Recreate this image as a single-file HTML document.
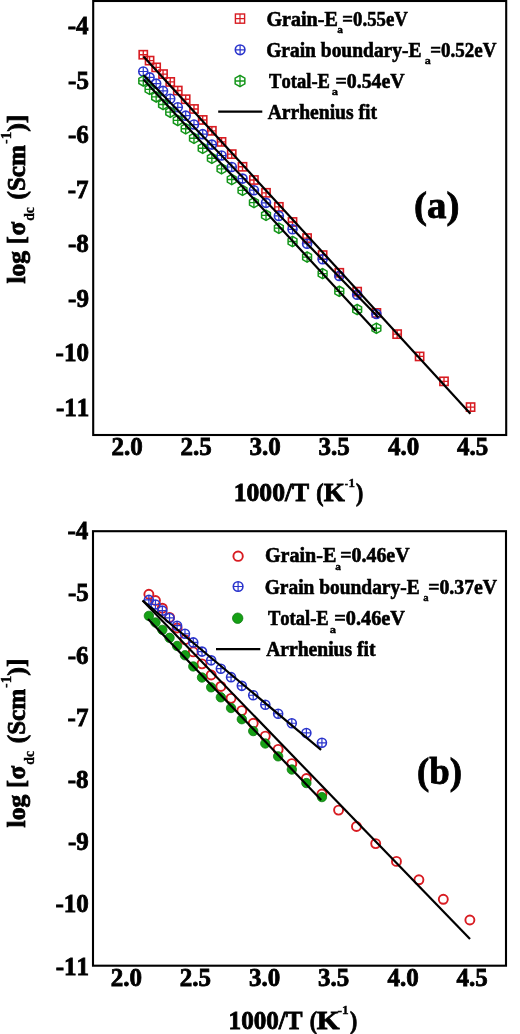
<!DOCTYPE html>
<html><head><meta charset="utf-8"><title>Arrhenius plots</title>
<style>html,body{margin:0;padding:0;background:#fff;}svg{display:block;}text{font-family:'Liberation Serif','Times New Roman',serif;font-weight:bold;font-kerning:none;fill:#000;}</style>
</head><body>
<svg width="520" height="1034" viewBox="0 0 520 1034">
<rect x="93.2" y="1" width="413" height="434" fill="none" stroke="#000" stroke-width="2.1"/>
<rect x="93" y="531.2" width="413" height="434.5" fill="none" stroke="#000" stroke-width="2.1"/>
<text x="67.64" y="34.45" font-size="25" textLength="20.83" lengthAdjust="spacingAndGlyphs" stroke="#000" stroke-width="0.8">-4</text>
<text x="68.09" y="88.92" font-size="25" textLength="20.83" lengthAdjust="spacingAndGlyphs" stroke="#000" stroke-width="0.8">-5</text>
<text x="67.91" y="143.39" font-size="25" textLength="20.83" lengthAdjust="spacingAndGlyphs" stroke="#000" stroke-width="0.8">-6</text>
<text x="67.79" y="197.86" font-size="25" textLength="20.83" lengthAdjust="spacingAndGlyphs" stroke="#000" stroke-width="0.8">-7</text>
<text x="68.00" y="252.33" font-size="25" textLength="20.83" lengthAdjust="spacingAndGlyphs" stroke="#000" stroke-width="0.8">-8</text>
<text x="68.08" y="306.80" font-size="25" textLength="20.83" lengthAdjust="spacingAndGlyphs" stroke="#000" stroke-width="0.8">-9</text>
<text x="55.63" y="361.27" font-size="25" textLength="33.33" lengthAdjust="spacingAndGlyphs" stroke="#000" stroke-width="0.8">-10</text>
<text x="55.97" y="415.74" font-size="25" textLength="33.33" lengthAdjust="spacingAndGlyphs" stroke="#000" stroke-width="0.8">-11</text>
<text x="111.43" y="455.20" font-size="25" textLength="31.25" lengthAdjust="spacingAndGlyphs" stroke="#000" stroke-width="0.8">2.0</text>
<text x="180.46" y="455.20" font-size="25" textLength="31.25" lengthAdjust="spacingAndGlyphs" stroke="#000" stroke-width="0.8">2.5</text>
<text x="249.58" y="455.20" font-size="25" textLength="31.25" lengthAdjust="spacingAndGlyphs" stroke="#000" stroke-width="0.8">3.0</text>
<text x="318.61" y="455.20" font-size="25" textLength="31.25" lengthAdjust="spacingAndGlyphs" stroke="#000" stroke-width="0.8">3.5</text>
<text x="387.98" y="455.20" font-size="25" textLength="31.25" lengthAdjust="spacingAndGlyphs" stroke="#000" stroke-width="0.8">4.0</text>
<text x="457.01" y="455.20" font-size="25" textLength="31.25" lengthAdjust="spacingAndGlyphs" stroke="#000" stroke-width="0.8">4.5</text>
<text x="67.44" y="539.25" font-size="25" textLength="20.83" lengthAdjust="spacingAndGlyphs" stroke="#000" stroke-width="0.8">-4</text>
<text x="67.89" y="601.45" font-size="25" textLength="20.83" lengthAdjust="spacingAndGlyphs" stroke="#000" stroke-width="0.8">-5</text>
<text x="67.71" y="663.65" font-size="25" textLength="20.83" lengthAdjust="spacingAndGlyphs" stroke="#000" stroke-width="0.8">-6</text>
<text x="67.59" y="725.85" font-size="25" textLength="20.83" lengthAdjust="spacingAndGlyphs" stroke="#000" stroke-width="0.8">-7</text>
<text x="67.80" y="788.05" font-size="25" textLength="20.83" lengthAdjust="spacingAndGlyphs" stroke="#000" stroke-width="0.8">-8</text>
<text x="67.88" y="850.25" font-size="25" textLength="20.83" lengthAdjust="spacingAndGlyphs" stroke="#000" stroke-width="0.8">-9</text>
<text x="55.43" y="912.45" font-size="25" textLength="33.33" lengthAdjust="spacingAndGlyphs" stroke="#000" stroke-width="0.8">-10</text>
<text x="55.77" y="974.65" font-size="25" textLength="33.33" lengthAdjust="spacingAndGlyphs" stroke="#000" stroke-width="0.8">-11</text>
<text x="110.83" y="986.20" font-size="25" textLength="31.25" lengthAdjust="spacingAndGlyphs" stroke="#000" stroke-width="0.8">2.0</text>
<text x="179.86" y="986.20" font-size="25" textLength="31.25" lengthAdjust="spacingAndGlyphs" stroke="#000" stroke-width="0.8">2.5</text>
<text x="248.98" y="986.20" font-size="25" textLength="31.25" lengthAdjust="spacingAndGlyphs" stroke="#000" stroke-width="0.8">3.0</text>
<text x="318.01" y="986.20" font-size="25" textLength="31.25" lengthAdjust="spacingAndGlyphs" stroke="#000" stroke-width="0.8">3.5</text>
<text x="387.38" y="986.20" font-size="25" textLength="31.25" lengthAdjust="spacingAndGlyphs" stroke="#000" stroke-width="0.8">4.0</text>
<text x="456.41" y="986.20" font-size="25" textLength="31.25" lengthAdjust="spacingAndGlyphs" stroke="#000" stroke-width="0.8">4.5</text>
<text x="233.75" y="500.80" font-size="24.5" textLength="75.44" lengthAdjust="spacingAndGlyphs" stroke="#000" stroke-width="0.8">1000/T</text>
<text x="316.24" y="501.10" font-size="24.5" textLength="7.26" lengthAdjust="spacingAndGlyphs" stroke="#000" stroke-width="0.8">(</text>
<text x="323.74" y="500.80" font-size="24.5" textLength="21.07" lengthAdjust="spacingAndGlyphs" stroke="#000" stroke-width="0.8">K</text>
<text x="344.63" y="488.00" font-size="13" textLength="3.33" lengthAdjust="spacingAndGlyphs" stroke="#000" stroke-width="0.4">-</text>
<text x="348.56" y="487.00" font-size="13" textLength="6.52" lengthAdjust="spacingAndGlyphs" stroke="#000" stroke-width="0.4">1</text>
<text x="355.90" y="501.10" font-size="24.5" textLength="7.26" lengthAdjust="spacingAndGlyphs" stroke="#000" stroke-width="0.8">)</text>
<text x="228.59" y="1028.80" font-size="24.5" textLength="73.99" lengthAdjust="spacingAndGlyphs" stroke="#000" stroke-width="0.8">1000/T</text>
<text x="309.64" y="1029.10" font-size="24.5" textLength="7.26" lengthAdjust="spacingAndGlyphs" stroke="#000" stroke-width="0.8">(</text>
<text x="316.80" y="1028.80" font-size="24.5" textLength="22.83" lengthAdjust="spacingAndGlyphs" stroke="#000" stroke-width="0.8">K</text>
<text x="337.59" y="1014.50" font-size="13" textLength="4.62" lengthAdjust="spacingAndGlyphs" stroke="#000" stroke-width="0.4">-</text>
<text x="342.13" y="1014.40" font-size="13" textLength="6.65" lengthAdjust="spacingAndGlyphs" stroke="#000" stroke-width="0.4">1</text>
<text x="350.10" y="1029.10" font-size="24.5" textLength="7.26" lengthAdjust="spacingAndGlyphs" stroke="#000" stroke-width="0.8">)</text>
<text transform="translate(24.6,283.2) rotate(-90)" x="-0.40" y="0.00" font-size="25" textLength="32.55" lengthAdjust="spacingAndGlyphs" stroke="#000" stroke-width="0.8">log</text>
<text transform="translate(24.6,283.2) rotate(-90)" x="39.20" y="0.00" font-size="25" textLength="7.63" lengthAdjust="spacingAndGlyphs" stroke="#000" stroke-width="0.8">[</text>
<text transform="translate(24.6,283.2) rotate(-90)" x="47.64" y="0.00" font-size="25" textLength="13.71" lengthAdjust="spacingAndGlyphs" stroke="#000" stroke-width="0.8">σ</text>
<text transform="translate(24.6,283.2) rotate(-90)" x="62.34" y="9.60" font-size="14.5" textLength="13.70" lengthAdjust="spacingAndGlyphs" stroke="#000" stroke-width="0.35">dc</text>
<text transform="translate(24.6,283.2) rotate(-90)" x="83.80" y="0.00" font-size="25" textLength="54.23" lengthAdjust="spacingAndGlyphs" stroke="#000" stroke-width="0.8">(Scm</text>
<text transform="translate(24.6,283.2) rotate(-90)" x="139.33" y="-15.00" font-size="13" textLength="4.23" lengthAdjust="spacingAndGlyphs" stroke="#000" stroke-width="0.4">-</text>
<text transform="translate(24.6,283.2) rotate(-90)" x="143.88" y="-13.90" font-size="15" textLength="7.61" lengthAdjust="spacingAndGlyphs" stroke="#000" stroke-width="0.45">1</text>
<text transform="translate(24.6,283.2) rotate(-90)" x="151.36" y="0.00" font-size="25" textLength="17.26" lengthAdjust="spacingAndGlyphs" stroke="#000" stroke-width="0.8">)]</text>
<text transform="translate(24.6,827.0) rotate(-90)" x="-0.40" y="0.00" font-size="25" textLength="32.55" lengthAdjust="spacingAndGlyphs" stroke="#000" stroke-width="0.8">log</text>
<text transform="translate(24.6,827.0) rotate(-90)" x="39.20" y="0.00" font-size="25" textLength="7.63" lengthAdjust="spacingAndGlyphs" stroke="#000" stroke-width="0.8">[</text>
<text transform="translate(24.6,827.0) rotate(-90)" x="47.64" y="0.00" font-size="25" textLength="13.71" lengthAdjust="spacingAndGlyphs" stroke="#000" stroke-width="0.8">σ</text>
<text transform="translate(24.6,827.0) rotate(-90)" x="62.34" y="9.60" font-size="14.5" textLength="13.70" lengthAdjust="spacingAndGlyphs" stroke="#000" stroke-width="0.35">dc</text>
<text transform="translate(24.6,827.0) rotate(-90)" x="83.80" y="0.00" font-size="25" textLength="54.23" lengthAdjust="spacingAndGlyphs" stroke="#000" stroke-width="0.8">(Scm</text>
<text transform="translate(24.6,827.0) rotate(-90)" x="139.33" y="-15.00" font-size="13" textLength="4.23" lengthAdjust="spacingAndGlyphs" stroke="#000" stroke-width="0.4">-</text>
<text transform="translate(24.6,827.0) rotate(-90)" x="143.88" y="-13.90" font-size="15" textLength="7.61" lengthAdjust="spacingAndGlyphs" stroke="#000" stroke-width="0.45">1</text>
<text transform="translate(24.6,827.0) rotate(-90)" x="151.36" y="0.00" font-size="25" textLength="17.26" lengthAdjust="spacingAndGlyphs" stroke="#000" stroke-width="0.8">)]</text>
<text x="414.09" y="217.70" font-size="37" textLength="45.42" lengthAdjust="spacingAndGlyphs" stroke="#000" stroke-width="0.8">(a)</text>
<text x="416.98" y="783.50" font-size="37" textLength="45.04" lengthAdjust="spacingAndGlyphs" stroke="#000" stroke-width="0.8">(b)</text>
<rect x="139.17" y="50.62" width="8.2" height="8.2" fill="none" stroke="#d81c22" stroke-width="1.6"/><path d="M139.17 54.72H147.37M143.27 50.62V58.82" stroke="#d81c22" stroke-width="1.36"/>
<rect x="145.47" y="56.51" width="8.2" height="8.2" fill="none" stroke="#d81c22" stroke-width="1.6"/><path d="M145.47 60.61H153.67M149.57 56.51V64.71" stroke="#d81c22" stroke-width="1.36"/>
<rect x="152.06" y="63.28" width="8.2" height="8.2" fill="none" stroke="#d81c22" stroke-width="1.6"/><path d="M152.06 67.38H160.26M156.16 63.28V71.48" stroke="#d81c22" stroke-width="1.36"/>
<rect x="158.94" y="69.98" width="8.2" height="8.2" fill="none" stroke="#d81c22" stroke-width="1.6"/><path d="M158.94 74.08H167.14M163.04 69.98V78.18" stroke="#d81c22" stroke-width="1.36"/>
<rect x="166.14" y="77.81" width="8.2" height="8.2" fill="none" stroke="#d81c22" stroke-width="1.6"/><path d="M166.14 81.91H174.34M170.24 77.81V86.01" stroke="#d81c22" stroke-width="1.36"/>
<rect x="173.68" y="86.45" width="8.2" height="8.2" fill="none" stroke="#d81c22" stroke-width="1.6"/><path d="M173.68 90.55H181.88M177.78 86.45V94.65" stroke="#d81c22" stroke-width="1.36"/>
<rect x="181.58" y="95.11" width="8.2" height="8.2" fill="none" stroke="#d81c22" stroke-width="1.6"/><path d="M181.58 99.21H189.78M185.68 95.11V103.31" stroke="#d81c22" stroke-width="1.36"/>
<rect x="189.88" y="104.87" width="8.2" height="8.2" fill="none" stroke="#d81c22" stroke-width="1.6"/><path d="M189.88 108.97H198.08M193.98 104.87V113.07" stroke="#d81c22" stroke-width="1.36"/>
<rect x="198.60" y="115.85" width="8.2" height="8.2" fill="none" stroke="#d81c22" stroke-width="1.6"/><path d="M198.60 119.95H206.80M202.70 115.85V124.05" stroke="#d81c22" stroke-width="1.36"/>
<rect x="207.77" y="126.72" width="8.2" height="8.2" fill="none" stroke="#d81c22" stroke-width="1.6"/><path d="M207.77 130.82H215.97M211.87 126.72V134.92" stroke="#d81c22" stroke-width="1.36"/>
<rect x="217.44" y="137.80" width="8.2" height="8.2" fill="none" stroke="#d81c22" stroke-width="1.6"/><path d="M217.44 141.90H225.64M221.54 137.80V146.00" stroke="#d81c22" stroke-width="1.36"/>
<rect x="227.64" y="150.02" width="8.2" height="8.2" fill="none" stroke="#d81c22" stroke-width="1.6"/><path d="M227.64 154.12H235.84M231.74 150.02V158.22" stroke="#d81c22" stroke-width="1.36"/>
<rect x="238.42" y="162.69" width="8.2" height="8.2" fill="none" stroke="#d81c22" stroke-width="1.6"/><path d="M238.42 166.79H246.62M242.52 162.69V170.89" stroke="#d81c22" stroke-width="1.36"/>
<rect x="249.82" y="175.89" width="8.2" height="8.2" fill="none" stroke="#d81c22" stroke-width="1.6"/><path d="M249.82 179.99H258.02M253.92 175.89V184.09" stroke="#d81c22" stroke-width="1.36"/>
<rect x="261.91" y="188.71" width="8.2" height="8.2" fill="none" stroke="#d81c22" stroke-width="1.6"/><path d="M261.91 192.81H270.11M266.01 188.71V196.91" stroke="#d81c22" stroke-width="1.36"/>
<rect x="274.75" y="202.74" width="8.2" height="8.2" fill="none" stroke="#d81c22" stroke-width="1.6"/><path d="M274.75 206.84H282.95M278.85 202.74V210.94" stroke="#d81c22" stroke-width="1.36"/>
<rect x="288.41" y="217.87" width="8.2" height="8.2" fill="none" stroke="#d81c22" stroke-width="1.6"/><path d="M288.41 221.97H296.61M292.51 217.87V226.07" stroke="#d81c22" stroke-width="1.36"/>
<rect x="302.98" y="233.99" width="8.2" height="8.2" fill="none" stroke="#d81c22" stroke-width="1.6"/><path d="M302.98 238.09H311.18M307.08 233.99V242.19" stroke="#d81c22" stroke-width="1.36"/>
<rect x="318.53" y="250.99" width="8.2" height="8.2" fill="none" stroke="#d81c22" stroke-width="1.6"/><path d="M318.53 255.09H326.73M322.63 250.99V259.19" stroke="#d81c22" stroke-width="1.36"/>
<rect x="335.19" y="268.68" width="8.2" height="8.2" fill="none" stroke="#d81c22" stroke-width="1.6"/><path d="M335.19 272.78H343.39M339.29 268.68V276.88" stroke="#d81c22" stroke-width="1.36"/>
<rect x="353.06" y="287.53" width="8.2" height="8.2" fill="none" stroke="#d81c22" stroke-width="1.6"/><path d="M353.06 291.63H361.26M357.16 287.53V295.73" stroke="#d81c22" stroke-width="1.36"/>
<rect x="372.30" y="308.82" width="8.2" height="8.2" fill="none" stroke="#d81c22" stroke-width="1.6"/><path d="M372.30 312.92H380.50M376.40 308.82V317.02" stroke="#d81c22" stroke-width="1.36"/>
<rect x="393.05" y="330.02" width="8.2" height="8.2" fill="none" stroke="#d81c22" stroke-width="1.6"/><path d="M393.05 334.12H401.25M397.15 330.02V338.22" stroke="#d81c22" stroke-width="1.36"/>
<rect x="415.51" y="352.33" width="8.2" height="8.2" fill="none" stroke="#d81c22" stroke-width="1.6"/><path d="M415.51 356.43H423.71M419.61 352.33V360.53" stroke="#d81c22" stroke-width="1.36"/>
<rect x="439.90" y="377.25" width="8.2" height="8.2" fill="none" stroke="#d81c22" stroke-width="1.6"/><path d="M439.90 381.35H448.10M444.00 377.25V385.45" stroke="#d81c22" stroke-width="1.36"/>
<rect x="466.48" y="403.00" width="8.2" height="8.2" fill="none" stroke="#d81c22" stroke-width="1.6"/><path d="M466.48 407.10H474.68M470.58 403.00V411.20" stroke="#d81c22" stroke-width="1.36"/>
<circle cx="143.27" cy="71.52" r="4.5" fill="none" stroke="#2a34cc" stroke-width="1.6"/><path d="M138.77 71.52H147.77M143.27 67.02V76.02" stroke="#2a34cc" stroke-width="1.20"/>
<circle cx="149.57" cy="77.33" r="4.5" fill="none" stroke="#2a34cc" stroke-width="1.6"/><path d="M145.07 77.33H154.07M149.57 72.83V81.83" stroke="#2a34cc" stroke-width="1.20"/>
<circle cx="156.16" cy="83.58" r="4.5" fill="none" stroke="#2a34cc" stroke-width="1.6"/><path d="M151.66 83.58H160.66M156.16 79.08V88.08" stroke="#2a34cc" stroke-width="1.20"/>
<circle cx="163.04" cy="90.89" r="4.5" fill="none" stroke="#2a34cc" stroke-width="1.6"/><path d="M158.54 90.89H167.54M163.04 86.39V95.39" stroke="#2a34cc" stroke-width="1.20"/>
<circle cx="170.24" cy="98.75" r="4.5" fill="none" stroke="#2a34cc" stroke-width="1.6"/><path d="M165.74 98.75H174.74M170.24 94.25V103.25" stroke="#2a34cc" stroke-width="1.20"/>
<circle cx="177.78" cy="107.30" r="4.5" fill="none" stroke="#2a34cc" stroke-width="1.6"/><path d="M173.28 107.30H182.28M177.78 102.80V111.80" stroke="#2a34cc" stroke-width="1.20"/>
<circle cx="185.68" cy="115.66" r="4.5" fill="none" stroke="#2a34cc" stroke-width="1.6"/><path d="M181.18 115.66H190.18M185.68 111.16V120.16" stroke="#2a34cc" stroke-width="1.20"/>
<circle cx="193.98" cy="124.54" r="4.5" fill="none" stroke="#2a34cc" stroke-width="1.6"/><path d="M189.48 124.54H198.48M193.98 120.04V129.04" stroke="#2a34cc" stroke-width="1.20"/>
<circle cx="202.70" cy="134.16" r="4.5" fill="none" stroke="#2a34cc" stroke-width="1.6"/><path d="M198.20 134.16H207.20M202.70 129.66V138.66" stroke="#2a34cc" stroke-width="1.20"/>
<circle cx="211.87" cy="144.62" r="4.5" fill="none" stroke="#2a34cc" stroke-width="1.6"/><path d="M207.37 144.62H216.37M211.87 140.12V149.12" stroke="#2a34cc" stroke-width="1.20"/>
<circle cx="221.54" cy="155.51" r="4.5" fill="none" stroke="#2a34cc" stroke-width="1.6"/><path d="M217.04 155.51H226.04M221.54 151.01V160.01" stroke="#2a34cc" stroke-width="1.20"/>
<circle cx="231.74" cy="167.01" r="4.5" fill="none" stroke="#2a34cc" stroke-width="1.6"/><path d="M227.24 167.01H236.24M231.74 162.51V171.51" stroke="#2a34cc" stroke-width="1.20"/>
<circle cx="242.52" cy="178.61" r="4.5" fill="none" stroke="#2a34cc" stroke-width="1.6"/><path d="M238.02 178.61H247.02M242.52 174.11V183.11" stroke="#2a34cc" stroke-width="1.20"/>
<circle cx="253.92" cy="190.20" r="4.5" fill="none" stroke="#2a34cc" stroke-width="1.6"/><path d="M249.42 190.20H258.42M253.92 185.70V194.70" stroke="#2a34cc" stroke-width="1.20"/>
<circle cx="266.01" cy="202.87" r="4.5" fill="none" stroke="#2a34cc" stroke-width="1.6"/><path d="M261.51 202.87H270.51M266.01 198.37V207.37" stroke="#2a34cc" stroke-width="1.20"/>
<circle cx="278.85" cy="215.91" r="4.5" fill="none" stroke="#2a34cc" stroke-width="1.6"/><path d="M274.35 215.91H283.35M278.85 211.41V220.41" stroke="#2a34cc" stroke-width="1.20"/>
<circle cx="292.51" cy="229.32" r="4.5" fill="none" stroke="#2a34cc" stroke-width="1.6"/><path d="M288.01 229.32H297.01M292.51 224.82V233.82" stroke="#2a34cc" stroke-width="1.20"/>
<circle cx="307.08" cy="243.75" r="4.5" fill="none" stroke="#2a34cc" stroke-width="1.6"/><path d="M302.58 243.75H311.58M307.08 239.25V248.25" stroke="#2a34cc" stroke-width="1.20"/>
<circle cx="322.63" cy="259.31" r="4.5" fill="none" stroke="#2a34cc" stroke-width="1.6"/><path d="M318.13 259.31H327.13M322.63 254.81V263.81" stroke="#2a34cc" stroke-width="1.20"/>
<circle cx="339.29" cy="275.92" r="4.5" fill="none" stroke="#2a34cc" stroke-width="1.6"/><path d="M334.79 275.92H343.79M339.29 271.42V280.42" stroke="#2a34cc" stroke-width="1.20"/>
<circle cx="357.16" cy="294.66" r="4.5" fill="none" stroke="#2a34cc" stroke-width="1.6"/><path d="M352.66 294.66H361.66M357.16 290.16V299.16" stroke="#2a34cc" stroke-width="1.20"/>
<circle cx="376.40" cy="314.03" r="4.5" fill="none" stroke="#2a34cc" stroke-width="1.6"/><path d="M371.90 314.03H380.90M376.40 309.53V318.53" stroke="#2a34cc" stroke-width="1.20"/>
<polygon points="143.27,75.84 138.85,78.39 138.85,83.49 143.27,86.04 147.68,83.49 147.68,78.39" fill="none" stroke="#14961a" stroke-width="1.5"/><path d="M138.85 80.94H147.68M143.27 75.84V86.04" stroke="#14961a" stroke-width="1.35"/>
<polygon points="149.57,84.21 145.16,86.76 145.16,91.86 149.57,94.41 153.99,91.86 153.99,86.76" fill="none" stroke="#14961a" stroke-width="1.5"/><path d="M145.16 89.31H153.99M149.57 84.21V94.41" stroke="#14961a" stroke-width="1.35"/>
<polygon points="156.16,91.82 151.74,94.37 151.74,99.47 156.16,102.02 160.57,99.47 160.57,94.37" fill="none" stroke="#14961a" stroke-width="1.5"/><path d="M151.74 96.92H160.57M156.16 91.82V102.02" stroke="#14961a" stroke-width="1.35"/>
<polygon points="163.04,99.37 158.62,101.92 158.62,107.02 163.04,109.57 167.45,107.02 167.45,101.92" fill="none" stroke="#14961a" stroke-width="1.5"/><path d="M158.62 104.47H167.45M163.04 99.37V109.57" stroke="#14961a" stroke-width="1.35"/>
<polygon points="170.24,107.08 165.82,109.63 165.82,114.73 170.24,117.28 174.65,114.73 174.65,109.63" fill="none" stroke="#14961a" stroke-width="1.5"/><path d="M165.82 112.18H174.65M170.24 107.08V117.28" stroke="#14961a" stroke-width="1.35"/>
<polygon points="177.78,115.33 173.36,117.88 173.36,122.98 177.78,125.53 182.19,122.98 182.19,117.88" fill="none" stroke="#14961a" stroke-width="1.5"/><path d="M173.36 120.43H182.19M177.78 115.33V125.53" stroke="#14961a" stroke-width="1.35"/>
<polygon points="185.68,123.63 181.27,126.18 181.27,131.28 185.68,133.83 190.10,131.28 190.10,126.18" fill="none" stroke="#14961a" stroke-width="1.5"/><path d="M181.27 128.73H190.10M185.68 123.63V133.83" stroke="#14961a" stroke-width="1.35"/>
<polygon points="193.98,133.13 189.56,135.68 189.56,140.78 193.98,143.33 198.40,140.78 198.40,135.68" fill="none" stroke="#14961a" stroke-width="1.5"/><path d="M189.56 138.23H198.40M193.98 133.13V143.33" stroke="#14961a" stroke-width="1.35"/>
<polygon points="202.70,143.15 198.28,145.70 198.28,150.80 202.70,153.35 207.12,150.80 207.12,145.70" fill="none" stroke="#14961a" stroke-width="1.5"/><path d="M198.28 148.25H207.12M202.70 143.15V153.35" stroke="#14961a" stroke-width="1.35"/>
<polygon points="211.87,153.19 207.46,155.74 207.46,160.84 211.87,163.39 216.29,160.84 216.29,155.74" fill="none" stroke="#14961a" stroke-width="1.5"/><path d="M207.46 158.29H216.29M211.87 153.19V163.39" stroke="#14961a" stroke-width="1.35"/>
<polygon points="221.54,163.75 217.12,166.30 217.12,171.40 221.54,173.95 225.96,171.40 225.96,166.30" fill="none" stroke="#14961a" stroke-width="1.5"/><path d="M217.12 168.85H225.96M221.54 163.75V173.95" stroke="#14961a" stroke-width="1.35"/>
<polygon points="231.74,174.38 227.32,176.93 227.32,182.03 231.74,184.58 236.16,182.03 236.16,176.93" fill="none" stroke="#14961a" stroke-width="1.5"/><path d="M227.32 179.48H236.16M231.74 174.38V184.58" stroke="#14961a" stroke-width="1.35"/>
<polygon points="242.52,185.29 238.10,187.84 238.10,192.94 242.52,195.49 246.93,192.94 246.93,187.84" fill="none" stroke="#14961a" stroke-width="1.5"/><path d="M238.10 190.39H246.93M242.52 185.29V195.49" stroke="#14961a" stroke-width="1.35"/>
<polygon points="253.92,197.54 249.51,200.09 249.51,205.19 253.92,207.74 258.34,205.19 258.34,200.09" fill="none" stroke="#14961a" stroke-width="1.5"/><path d="M249.51 202.64H258.34M253.92 197.54V207.74" stroke="#14961a" stroke-width="1.35"/>
<polygon points="266.01,210.22 261.60,212.77 261.60,217.87 266.01,220.42 270.43,217.87 270.43,212.77" fill="none" stroke="#14961a" stroke-width="1.5"/><path d="M261.60 215.32H270.43M266.01 210.22V220.42" stroke="#14961a" stroke-width="1.35"/>
<polygon points="278.85,223.08 274.44,225.63 274.44,230.73 278.85,233.28 283.27,230.73 283.27,225.63" fill="none" stroke="#14961a" stroke-width="1.5"/><path d="M274.44 228.18H283.27M278.85 223.08V233.28" stroke="#14961a" stroke-width="1.35"/>
<polygon points="292.51,236.39 288.10,238.94 288.10,244.04 292.51,246.59 296.93,244.04 296.93,238.94" fill="none" stroke="#14961a" stroke-width="1.5"/><path d="M288.10 241.49H296.93M292.51 236.39V246.59" stroke="#14961a" stroke-width="1.35"/>
<polygon points="307.08,251.95 302.66,254.50 302.66,259.60 307.08,262.15 311.49,259.60 311.49,254.50" fill="none" stroke="#14961a" stroke-width="1.5"/><path d="M302.66 257.05H311.49M307.08 251.95V262.15" stroke="#14961a" stroke-width="1.35"/>
<polygon points="322.63,268.51 318.21,271.06 318.21,276.16 322.63,278.71 327.05,276.16 327.05,271.06" fill="none" stroke="#14961a" stroke-width="1.5"/><path d="M318.21 273.61H327.05M322.63 268.51V278.71" stroke="#14961a" stroke-width="1.35"/>
<polygon points="339.29,286.23 334.87,288.78 334.87,293.88 339.29,296.43 343.70,293.88 343.70,288.78" fill="none" stroke="#14961a" stroke-width="1.5"/><path d="M334.87 291.33H343.70M339.29 286.23V296.43" stroke="#14961a" stroke-width="1.35"/>
<polygon points="357.16,304.43 352.74,306.98 352.74,312.08 357.16,314.63 361.58,312.08 361.58,306.98" fill="none" stroke="#14961a" stroke-width="1.5"/><path d="M352.74 309.53H361.58M357.16 304.43V314.63" stroke="#14961a" stroke-width="1.35"/>
<polygon points="376.40,323.17 371.98,325.72 371.98,330.82 376.40,333.37 380.81,330.82 380.81,325.72" fill="none" stroke="#14961a" stroke-width="1.5"/><path d="M371.98 328.27H380.81M376.40 323.17V333.37" stroke="#14961a" stroke-width="1.35"/>
<line x1="143.5" y1="56.5" x2="470.4" y2="413.8" stroke="#000" stroke-width="2.2"/>
<line x1="143.5" y1="74.9" x2="378.5" y2="317.5" stroke="#000" stroke-width="2.2"/>
<line x1="143.5" y1="79.5" x2="375.6" y2="331" stroke="#000" stroke-width="2.2"/>
<circle cx="148.87" cy="594.26" r="4.5" fill="none" stroke="#d81c22" stroke-width="1.9"/>
<circle cx="155.46" cy="600.52" r="4.5" fill="none" stroke="#d81c22" stroke-width="1.9"/>
<circle cx="162.34" cy="608.19" r="4.5" fill="none" stroke="#d81c22" stroke-width="1.9"/>
<circle cx="169.54" cy="617.38" r="4.5" fill="none" stroke="#d81c22" stroke-width="1.9"/>
<circle cx="177.08" cy="628.00" r="4.5" fill="none" stroke="#d81c22" stroke-width="1.9"/>
<circle cx="184.98" cy="639.64" r="4.5" fill="none" stroke="#d81c22" stroke-width="1.9"/>
<circle cx="193.28" cy="651.90" r="4.5" fill="none" stroke="#d81c22" stroke-width="1.9"/>
<circle cx="202.00" cy="663.84" r="4.5" fill="none" stroke="#d81c22" stroke-width="1.9"/>
<circle cx="211.17" cy="675.01" r="4.5" fill="none" stroke="#d81c22" stroke-width="1.9"/>
<circle cx="220.84" cy="686.44" r="4.5" fill="none" stroke="#d81c22" stroke-width="1.9"/>
<circle cx="231.04" cy="698.36" r="4.5" fill="none" stroke="#d81c22" stroke-width="1.9"/>
<circle cx="241.82" cy="710.62" r="4.5" fill="none" stroke="#d81c22" stroke-width="1.9"/>
<circle cx="253.22" cy="723.32" r="4.5" fill="none" stroke="#d81c22" stroke-width="1.9"/>
<circle cx="265.31" cy="736.11" r="4.5" fill="none" stroke="#d81c22" stroke-width="1.9"/>
<circle cx="278.15" cy="749.38" r="4.5" fill="none" stroke="#d81c22" stroke-width="1.9"/>
<circle cx="291.81" cy="763.63" r="4.5" fill="none" stroke="#d81c22" stroke-width="1.9"/>
<circle cx="306.38" cy="778.49" r="4.5" fill="none" stroke="#d81c22" stroke-width="1.9"/>
<circle cx="321.93" cy="793.99" r="4.5" fill="none" stroke="#d81c22" stroke-width="1.9"/>
<circle cx="338.59" cy="810.12" r="4.5" fill="none" stroke="#d81c22" stroke-width="1.9"/>
<circle cx="356.46" cy="826.49" r="4.5" fill="none" stroke="#d81c22" stroke-width="1.9"/>
<circle cx="375.70" cy="843.60" r="4.5" fill="none" stroke="#d81c22" stroke-width="1.9"/>
<circle cx="396.45" cy="861.42" r="4.5" fill="none" stroke="#d81c22" stroke-width="1.9"/>
<circle cx="418.91" cy="879.80" r="4.5" fill="none" stroke="#d81c22" stroke-width="1.9"/>
<circle cx="443.30" cy="899.31" r="4.5" fill="none" stroke="#d81c22" stroke-width="1.9"/>
<circle cx="469.88" cy="920.00" r="4.5" fill="none" stroke="#d81c22" stroke-width="1.9"/>
<circle cx="148.87" cy="599.89" r="4.5" fill="none" stroke="#2a34cc" stroke-width="1.6"/><path d="M144.37 599.89H153.37M148.87 595.39V604.39" stroke="#2a34cc" stroke-width="1.20"/>
<circle cx="155.46" cy="604.48" r="4.5" fill="none" stroke="#2a34cc" stroke-width="1.6"/><path d="M150.96 604.48H159.96M155.46 599.98V608.98" stroke="#2a34cc" stroke-width="1.20"/>
<circle cx="162.34" cy="610.66" r="4.5" fill="none" stroke="#2a34cc" stroke-width="1.6"/><path d="M157.84 610.66H166.84M162.34 606.16V615.16" stroke="#2a34cc" stroke-width="1.20"/>
<circle cx="169.54" cy="617.97" r="4.5" fill="none" stroke="#2a34cc" stroke-width="1.6"/><path d="M165.04 617.97H174.04M169.54 613.47V622.47" stroke="#2a34cc" stroke-width="1.20"/>
<circle cx="177.08" cy="625.68" r="4.5" fill="none" stroke="#2a34cc" stroke-width="1.6"/><path d="M172.58 625.68H181.58M177.08 621.18V630.18" stroke="#2a34cc" stroke-width="1.20"/>
<circle cx="184.98" cy="633.76" r="4.5" fill="none" stroke="#2a34cc" stroke-width="1.6"/><path d="M180.48 633.76H189.48M184.98 629.26V638.26" stroke="#2a34cc" stroke-width="1.20"/>
<circle cx="193.28" cy="642.42" r="4.5" fill="none" stroke="#2a34cc" stroke-width="1.6"/><path d="M188.78 642.42H197.78M193.28 637.92V646.92" stroke="#2a34cc" stroke-width="1.20"/>
<circle cx="202.00" cy="651.58" r="4.5" fill="none" stroke="#2a34cc" stroke-width="1.6"/><path d="M197.50 651.58H206.50M202.00 647.08V656.08" stroke="#2a34cc" stroke-width="1.20"/>
<circle cx="211.17" cy="660.35" r="4.5" fill="none" stroke="#2a34cc" stroke-width="1.6"/><path d="M206.67 660.35H215.67M211.17 655.85V664.85" stroke="#2a34cc" stroke-width="1.20"/>
<circle cx="220.84" cy="668.71" r="4.5" fill="none" stroke="#2a34cc" stroke-width="1.6"/><path d="M216.34 668.71H225.34M220.84 664.21V673.21" stroke="#2a34cc" stroke-width="1.20"/>
<circle cx="231.04" cy="677.15" r="4.5" fill="none" stroke="#2a34cc" stroke-width="1.6"/><path d="M226.54 677.15H235.54M231.04 672.65V681.65" stroke="#2a34cc" stroke-width="1.20"/>
<circle cx="241.82" cy="685.87" r="4.5" fill="none" stroke="#2a34cc" stroke-width="1.6"/><path d="M237.32 685.87H246.32M241.82 681.37V690.37" stroke="#2a34cc" stroke-width="1.20"/>
<circle cx="253.22" cy="695.25" r="4.5" fill="none" stroke="#2a34cc" stroke-width="1.6"/><path d="M248.72 695.25H257.72M253.22 690.75V699.75" stroke="#2a34cc" stroke-width="1.20"/>
<circle cx="265.31" cy="704.68" r="4.5" fill="none" stroke="#2a34cc" stroke-width="1.6"/><path d="M260.81 704.68H269.81M265.31 700.18V709.18" stroke="#2a34cc" stroke-width="1.20"/>
<circle cx="278.15" cy="713.74" r="4.5" fill="none" stroke="#2a34cc" stroke-width="1.6"/><path d="M273.65 713.74H282.65M278.15 709.24V718.24" stroke="#2a34cc" stroke-width="1.20"/>
<circle cx="291.81" cy="723.24" r="4.5" fill="none" stroke="#2a34cc" stroke-width="1.6"/><path d="M287.31 723.24H296.31M291.81 718.74V727.74" stroke="#2a34cc" stroke-width="1.20"/>
<circle cx="306.38" cy="732.93" r="4.5" fill="none" stroke="#2a34cc" stroke-width="1.6"/><path d="M301.88 732.93H310.88M306.38 728.43V737.43" stroke="#2a34cc" stroke-width="1.20"/>
<circle cx="321.93" cy="742.80" r="4.5" fill="none" stroke="#2a34cc" stroke-width="1.6"/><path d="M317.43 742.80H326.43M321.93 738.30V747.30" stroke="#2a34cc" stroke-width="1.20"/>
<circle cx="148.87" cy="615.87" r="4.7" fill="#15a015" stroke="#0e7a10" stroke-width="0.8"/>
<circle cx="155.46" cy="622.47" r="4.7" fill="#15a015" stroke="#0e7a10" stroke-width="0.8"/>
<circle cx="162.34" cy="629.85" r="4.7" fill="#15a015" stroke="#0e7a10" stroke-width="0.8"/>
<circle cx="169.54" cy="637.81" r="4.7" fill="#15a015" stroke="#0e7a10" stroke-width="0.8"/>
<circle cx="177.08" cy="645.95" r="4.7" fill="#15a015" stroke="#0e7a10" stroke-width="0.8"/>
<circle cx="184.98" cy="655.24" r="4.7" fill="#15a015" stroke="#0e7a10" stroke-width="0.8"/>
<circle cx="193.28" cy="666.44" r="4.7" fill="#15a015" stroke="#0e7a10" stroke-width="0.8"/>
<circle cx="202.00" cy="677.53" r="4.7" fill="#15a015" stroke="#0e7a10" stroke-width="0.8"/>
<circle cx="211.17" cy="687.33" r="4.7" fill="#15a015" stroke="#0e7a10" stroke-width="0.8"/>
<circle cx="220.84" cy="697.31" r="4.7" fill="#15a015" stroke="#0e7a10" stroke-width="0.8"/>
<circle cx="231.04" cy="708.01" r="4.7" fill="#15a015" stroke="#0e7a10" stroke-width="0.8"/>
<circle cx="241.82" cy="719.22" r="4.7" fill="#15a015" stroke="#0e7a10" stroke-width="0.8"/>
<circle cx="253.22" cy="731.09" r="4.7" fill="#15a015" stroke="#0e7a10" stroke-width="0.8"/>
<circle cx="265.31" cy="743.50" r="4.7" fill="#15a015" stroke="#0e7a10" stroke-width="0.8"/>
<circle cx="278.15" cy="756.34" r="4.7" fill="#15a015" stroke="#0e7a10" stroke-width="0.8"/>
<circle cx="291.81" cy="769.55" r="4.7" fill="#15a015" stroke="#0e7a10" stroke-width="0.8"/>
<circle cx="306.38" cy="783.06" r="4.7" fill="#15a015" stroke="#0e7a10" stroke-width="0.8"/>
<circle cx="321.93" cy="797.10" r="4.7" fill="#15a015" stroke="#0e7a10" stroke-width="0.8"/>
<line x1="142.6" y1="600.5" x2="470" y2="939" stroke="#000" stroke-width="2.2"/>
<line x1="142.6" y1="600.5" x2="321.1" y2="749.9" stroke="#000" stroke-width="2.2"/>
<line x1="148" y1="619" x2="321.2" y2="800" stroke="#000" stroke-width="2.2"/>
<rect x="235.40" y="14.00" width="9.2" height="9.2" fill="none" stroke="#d81c22" stroke-width="1.4"/><path d="M235.40 18.60H244.60M240.00 14.00V23.20" stroke="#d81c22" stroke-width="1.19"/>
<circle cx="240.10" cy="49.80" r="4.8" fill="none" stroke="#2a34cc" stroke-width="1.6"/><path d="M235.30 49.80H244.90M240.10 45.00V54.60" stroke="#2a34cc" stroke-width="1.20"/>
<polygon points="240.00,75.40 235.15,78.20 235.15,83.80 240.00,86.60 244.85,83.80 244.85,78.20" fill="none" stroke="#14961a" stroke-width="1.5"/><path d="M235.15 81.00H244.85M240.00 75.40V86.60" stroke="#14961a" stroke-width="1.35"/>
<line x1="218.2" y1="111.6" x2="262.3" y2="111.6" stroke="#000" stroke-width="2.2"/>
<text x="266.52" y="25.50" font-size="20" textLength="71.31" lengthAdjust="spacingAndGlyphs" stroke="#000" stroke-width="0.6">Grain-E</text>
<text x="337.24" y="33.00" font-size="11" textLength="5.63" lengthAdjust="spacingAndGlyphs" stroke="#000" stroke-width="0.4">a</text>
<text x="342.36" y="25.50" font-size="20" textLength="65.45" lengthAdjust="spacingAndGlyphs" stroke="#000" stroke-width="0.6">=0.55eV</text>
<text x="266.15" y="56.50" font-size="20" textLength="155.35" lengthAdjust="spacingAndGlyphs" stroke="#000" stroke-width="0.6">Grain boundary-E</text>
<text x="424.82" y="64.30" font-size="11" textLength="5.97" lengthAdjust="spacingAndGlyphs" stroke="#000" stroke-width="0.4">a</text>
<text x="430.25" y="56.50" font-size="20" textLength="66.16" lengthAdjust="spacingAndGlyphs" stroke="#000" stroke-width="0.6">=0.52eV</text>
<text x="269.11" y="87.70" font-size="20" textLength="60.84" lengthAdjust="spacingAndGlyphs" stroke="#000" stroke-width="0.6">Total-E</text>
<text x="331.80" y="95.30" font-size="11" textLength="6.19" lengthAdjust="spacingAndGlyphs" stroke="#000" stroke-width="0.4">a</text>
<text x="335.51" y="87.70" font-size="20" textLength="69.11" lengthAdjust="spacingAndGlyphs" stroke="#000" stroke-width="0.6">=0.54eV</text>
<text x="267.71" y="119.00" font-size="20" textLength="109.28" lengthAdjust="spacingAndGlyphs" stroke="#000" stroke-width="0.6">Arrhenius fit</text>
<circle cx="238.10" cy="556.20" r="4.7" fill="none" stroke="#d81c22" stroke-width="1.9"/>
<circle cx="238.10" cy="586.50" r="4.8" fill="none" stroke="#2a34cc" stroke-width="1.6"/><path d="M233.30 586.50H242.90M238.10 581.70V591.30" stroke="#2a34cc" stroke-width="1.20"/>
<circle cx="237.70" cy="618.20" r="5.2" fill="#15a015" stroke="#0e7a10" stroke-width="0.8"/>
<line x1="216" y1="649.1" x2="260.3" y2="649.1" stroke="#000" stroke-width="2.2"/>
<text x="265.02" y="562.30" font-size="20" textLength="71.31" lengthAdjust="spacingAndGlyphs" stroke="#000" stroke-width="0.6">Grain-E</text>
<text x="335.24" y="570.00" font-size="11" textLength="5.63" lengthAdjust="spacingAndGlyphs" stroke="#000" stroke-width="0.4">a</text>
<text x="340.31" y="562.30" font-size="20" textLength="69.21" lengthAdjust="spacingAndGlyphs" stroke="#000" stroke-width="0.6">=0.46eV</text>
<text x="264.75" y="593.50" font-size="20" textLength="154.84" lengthAdjust="spacingAndGlyphs" stroke="#000" stroke-width="0.6">Grain boundary-E</text>
<text x="423.16" y="601.10" font-size="11" textLength="5.30" lengthAdjust="spacingAndGlyphs" stroke="#000" stroke-width="0.4">a</text>
<text x="428.22" y="593.50" font-size="20" textLength="68.80" lengthAdjust="spacingAndGlyphs" stroke="#000" stroke-width="0.6">=0.37eV</text>
<text x="267.91" y="624.70" font-size="20" textLength="60.84" lengthAdjust="spacingAndGlyphs" stroke="#000" stroke-width="0.6">Total-E</text>
<text x="329.70" y="632.50" font-size="11" textLength="6.19" lengthAdjust="spacingAndGlyphs" stroke="#000" stroke-width="0.4">a</text>
<text x="334.29" y="624.70" font-size="20" textLength="70.74" lengthAdjust="spacingAndGlyphs" stroke="#000" stroke-width="0.6">=0.46eV</text>
<text x="266.21" y="656.00" font-size="20" textLength="109.28" lengthAdjust="spacingAndGlyphs" stroke="#000" stroke-width="0.6">Arrhenius fit</text>
</svg>
</body></html>
